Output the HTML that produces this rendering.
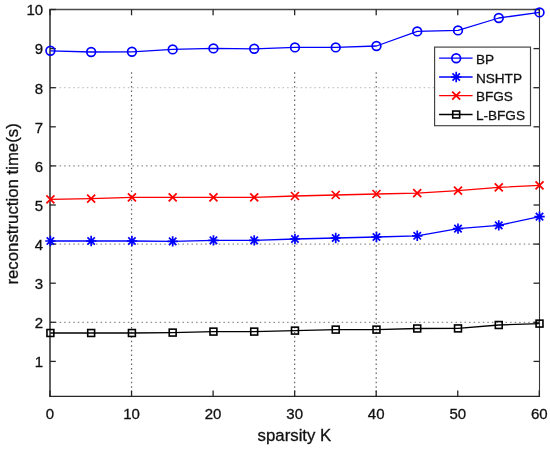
<!DOCTYPE html><html><head><meta charset="utf-8"><style>html,body{margin:0;padding:0;background:#fff;width:550px;height:449px;overflow:hidden}svg{display:block}text{font-family:'Liberation Sans', Arial, Helvetica, sans-serif;fill:#111;stroke:#111;stroke-width:0.3px}</style></head><body>
<svg width="550" height="449" viewBox="0 0 550 449">
<rect x="0" y="0" width="550" height="449" fill="#fff"/>
<line x1="131.55" y1="396.85" x2="131.55" y2="70.00" stroke="#606060" stroke-width="1.2" stroke-dasharray="1.5 3.05"/>
<line x1="294.65" y1="396.85" x2="294.65" y2="70.00" stroke="#606060" stroke-width="1.2" stroke-dasharray="1.5 3.05"/>
<line x1="376.20" y1="396.85" x2="376.20" y2="70.00" stroke="#606060" stroke-width="1.2" stroke-dasharray="1.5 3.05"/>
<line x1="50.50" y1="322.30" x2="539.30" y2="322.30" stroke="#909090" stroke-width="1.3" stroke-dasharray="1.5 3.05"/>
<line x1="50.50" y1="244.10" x2="539.30" y2="244.10" stroke="#909090" stroke-width="1.3" stroke-dasharray="1.5 3.05"/>
<line x1="50.50" y1="165.90" x2="539.30" y2="165.90" stroke="#909090" stroke-width="1.3" stroke-dasharray="1.5 3.05"/>
<line x1="50.50" y1="87.70" x2="539.30" y2="87.70" stroke="#c4c4c4" stroke-width="1.3" stroke-dasharray="1.5 3.05"/>
<line x1="50.00" y1="8.90" x2="50.00" y2="397.10" stroke="#1e1e1e" stroke-width="1.4"/>
<line x1="539.50" y1="8.90" x2="539.50" y2="397.10" stroke="#3a3a3a" stroke-width="1.1"/>
<line x1="49.30" y1="9.50" x2="540.05" y2="9.50" stroke="#4a4a4a" stroke-width="1.3"/>
<line x1="49.30" y1="396.40" x2="540.05" y2="396.40" stroke="#262626" stroke-width="1.4"/>
<line x1="50.00" y1="396.40" x2="50.00" y2="390.60" stroke="#262626" stroke-width="1.3"/>
<line x1="50.00" y1="9.50" x2="50.00" y2="15.30" stroke="#262626" stroke-width="1.3"/>
<line x1="131.55" y1="396.40" x2="131.55" y2="390.60" stroke="#262626" stroke-width="1.3"/>
<line x1="131.55" y1="9.50" x2="131.55" y2="15.30" stroke="#262626" stroke-width="1.3"/>
<line x1="213.10" y1="396.40" x2="213.10" y2="390.60" stroke="#262626" stroke-width="1.3"/>
<line x1="213.10" y1="9.50" x2="213.10" y2="15.30" stroke="#262626" stroke-width="1.3"/>
<line x1="294.65" y1="396.40" x2="294.65" y2="390.60" stroke="#262626" stroke-width="1.3"/>
<line x1="294.65" y1="9.50" x2="294.65" y2="15.30" stroke="#262626" stroke-width="1.3"/>
<line x1="376.20" y1="396.40" x2="376.20" y2="390.60" stroke="#262626" stroke-width="1.3"/>
<line x1="376.20" y1="9.50" x2="376.20" y2="15.30" stroke="#262626" stroke-width="1.3"/>
<line x1="457.75" y1="396.40" x2="457.75" y2="390.60" stroke="#262626" stroke-width="1.3"/>
<line x1="457.75" y1="9.50" x2="457.75" y2="15.30" stroke="#262626" stroke-width="1.3"/>
<line x1="539.30" y1="396.40" x2="539.30" y2="390.60" stroke="#262626" stroke-width="1.3"/>
<line x1="539.30" y1="9.50" x2="539.30" y2="15.30" stroke="#262626" stroke-width="1.3"/>
<line x1="50.00" y1="361.40" x2="55.80" y2="361.40" stroke="#262626" stroke-width="1.3"/>
<line x1="539.30" y1="361.40" x2="533.50" y2="361.40" stroke="#262626" stroke-width="1.3"/>
<line x1="50.00" y1="322.30" x2="55.80" y2="322.30" stroke="#262626" stroke-width="1.3"/>
<line x1="539.30" y1="322.30" x2="533.50" y2="322.30" stroke="#262626" stroke-width="1.3"/>
<line x1="50.00" y1="283.20" x2="55.80" y2="283.20" stroke="#262626" stroke-width="1.3"/>
<line x1="539.30" y1="283.20" x2="533.50" y2="283.20" stroke="#262626" stroke-width="1.3"/>
<line x1="50.00" y1="244.10" x2="55.80" y2="244.10" stroke="#262626" stroke-width="1.3"/>
<line x1="539.30" y1="244.10" x2="533.50" y2="244.10" stroke="#262626" stroke-width="1.3"/>
<line x1="50.00" y1="205.00" x2="55.80" y2="205.00" stroke="#262626" stroke-width="1.3"/>
<line x1="539.30" y1="205.00" x2="533.50" y2="205.00" stroke="#262626" stroke-width="1.3"/>
<line x1="50.00" y1="165.90" x2="55.80" y2="165.90" stroke="#262626" stroke-width="1.3"/>
<line x1="539.30" y1="165.90" x2="533.50" y2="165.90" stroke="#262626" stroke-width="1.3"/>
<line x1="50.00" y1="126.80" x2="55.80" y2="126.80" stroke="#262626" stroke-width="1.3"/>
<line x1="539.30" y1="126.80" x2="533.50" y2="126.80" stroke="#262626" stroke-width="1.3"/>
<line x1="50.00" y1="87.70" x2="55.80" y2="87.70" stroke="#262626" stroke-width="1.3"/>
<line x1="539.30" y1="87.70" x2="533.50" y2="87.70" stroke="#262626" stroke-width="1.3"/>
<line x1="50.00" y1="48.60" x2="55.80" y2="48.60" stroke="#262626" stroke-width="1.3"/>
<line x1="539.30" y1="48.60" x2="533.50" y2="48.60" stroke="#262626" stroke-width="1.3"/>
<line x1="50.00" y1="9.50" x2="55.80" y2="9.50" stroke="#262626" stroke-width="1.3"/>
<line x1="539.30" y1="9.50" x2="533.50" y2="9.50" stroke="#262626" stroke-width="1.3"/>
<text x="50.00" y="418.5" font-size="15.0" text-anchor="middle">0</text>
<text x="131.55" y="418.5" font-size="15.0" text-anchor="middle">10</text>
<text x="213.10" y="418.5" font-size="15.0" text-anchor="middle">20</text>
<text x="294.65" y="418.5" font-size="15.0" text-anchor="middle">30</text>
<text x="376.20" y="418.5" font-size="15.0" text-anchor="middle">40</text>
<text x="457.75" y="418.5" font-size="15.0" text-anchor="middle">50</text>
<text x="539.30" y="418.5" font-size="15.0" text-anchor="middle">60</text>
<text x="43.1" y="367.25" font-size="15.0" text-anchor="end">1</text>
<text x="43.1" y="328.15" font-size="15.0" text-anchor="end">2</text>
<text x="43.1" y="289.05" font-size="15.0" text-anchor="end">3</text>
<text x="43.1" y="249.95" font-size="15.0" text-anchor="end">4</text>
<text x="43.1" y="210.85" font-size="15.0" text-anchor="end">5</text>
<text x="43.1" y="171.75" font-size="15.0" text-anchor="end">6</text>
<text x="43.1" y="132.65" font-size="15.0" text-anchor="end">7</text>
<text x="43.1" y="93.55" font-size="15.0" text-anchor="end">8</text>
<text x="43.1" y="54.45" font-size="15.0" text-anchor="end">9</text>
<text x="43.1" y="15.35" font-size="15.0" text-anchor="end">10</text>
<text x="294.45" y="441.1" font-size="16.8" text-anchor="middle">sparsity K</text>
<text transform="translate(18.0 203.9) rotate(-90)" x="0" y="0" font-size="16.8" text-anchor="middle">reconstruction time(s)</text>
<polyline points="50.40,50.80 91.16,52.00 131.92,51.80 172.68,49.40 213.44,48.40 254.20,48.80 294.96,47.40 335.72,47.40 376.48,46.00 417.24,31.40 458.00,30.40 498.76,18.00 539.52,12.40" fill="none" stroke="#0000ff" stroke-width="1.3" stroke-linejoin="round"/>
<circle cx="50.40" cy="50.80" r="4.35" fill="none" stroke="#0000ff" stroke-width="1.7"/>
<circle cx="91.16" cy="52.00" r="4.35" fill="none" stroke="#0000ff" stroke-width="1.7"/>
<circle cx="131.92" cy="51.80" r="4.35" fill="none" stroke="#0000ff" stroke-width="1.7"/>
<circle cx="172.68" cy="49.40" r="4.35" fill="none" stroke="#0000ff" stroke-width="1.7"/>
<circle cx="213.44" cy="48.40" r="4.35" fill="none" stroke="#0000ff" stroke-width="1.7"/>
<circle cx="254.20" cy="48.80" r="4.35" fill="none" stroke="#0000ff" stroke-width="1.7"/>
<circle cx="294.96" cy="47.40" r="4.35" fill="none" stroke="#0000ff" stroke-width="1.7"/>
<circle cx="335.72" cy="47.40" r="4.35" fill="none" stroke="#0000ff" stroke-width="1.7"/>
<circle cx="376.48" cy="46.00" r="4.35" fill="none" stroke="#0000ff" stroke-width="1.7"/>
<circle cx="417.24" cy="31.40" r="4.35" fill="none" stroke="#0000ff" stroke-width="1.7"/>
<circle cx="458.00" cy="30.40" r="4.35" fill="none" stroke="#0000ff" stroke-width="1.7"/>
<circle cx="498.76" cy="18.00" r="4.35" fill="none" stroke="#0000ff" stroke-width="1.7"/>
<circle cx="539.52" cy="12.40" r="4.35" fill="none" stroke="#0000ff" stroke-width="1.7"/>
<polyline points="50.40,241.00 91.16,241.00 131.92,241.00 172.68,241.40 213.44,240.40 254.20,240.40 294.96,239.00 335.72,238.00 376.48,237.00 417.24,235.80 458.00,228.60 498.76,225.40 539.52,216.60" fill="none" stroke="#0000ff" stroke-width="1.3" stroke-linejoin="round"/>
<path d="M50.40 235.80V246.20M45.20 241.00H55.60M46.70 237.30L54.10 244.70M46.70 244.70L54.10 237.30" stroke="#0000ff" stroke-width="1.7" fill="none"/>
<path d="M91.16 235.80V246.20M85.96 241.00H96.36M87.46 237.30L94.86 244.70M87.46 244.70L94.86 237.30" stroke="#0000ff" stroke-width="1.7" fill="none"/>
<path d="M131.92 235.80V246.20M126.72 241.00H137.12M128.22 237.30L135.62 244.70M128.22 244.70L135.62 237.30" stroke="#0000ff" stroke-width="1.7" fill="none"/>
<path d="M172.68 236.20V246.60M167.48 241.40H177.88M168.98 237.70L176.38 245.10M168.98 245.10L176.38 237.70" stroke="#0000ff" stroke-width="1.7" fill="none"/>
<path d="M213.44 235.20V245.60M208.24 240.40H218.64M209.74 236.70L217.14 244.10M209.74 244.10L217.14 236.70" stroke="#0000ff" stroke-width="1.7" fill="none"/>
<path d="M254.20 235.20V245.60M249.00 240.40H259.40M250.50 236.70L257.90 244.10M250.50 244.10L257.90 236.70" stroke="#0000ff" stroke-width="1.7" fill="none"/>
<path d="M294.96 233.80V244.20M289.76 239.00H300.16M291.26 235.30L298.66 242.70M291.26 242.70L298.66 235.30" stroke="#0000ff" stroke-width="1.7" fill="none"/>
<path d="M335.72 232.80V243.20M330.52 238.00H340.92M332.02 234.30L339.42 241.70M332.02 241.70L339.42 234.30" stroke="#0000ff" stroke-width="1.7" fill="none"/>
<path d="M376.48 231.80V242.20M371.28 237.00H381.68M372.78 233.30L380.18 240.70M372.78 240.70L380.18 233.30" stroke="#0000ff" stroke-width="1.7" fill="none"/>
<path d="M417.24 230.60V241.00M412.04 235.80H422.44M413.54 232.10L420.94 239.50M413.54 239.50L420.94 232.10" stroke="#0000ff" stroke-width="1.7" fill="none"/>
<path d="M458.00 223.40V233.80M452.80 228.60H463.20M454.30 224.90L461.70 232.30M454.30 232.30L461.70 224.90" stroke="#0000ff" stroke-width="1.7" fill="none"/>
<path d="M498.76 220.20V230.60M493.56 225.40H503.96M495.06 221.70L502.46 229.10M495.06 229.10L502.46 221.70" stroke="#0000ff" stroke-width="1.7" fill="none"/>
<path d="M539.52 211.40V221.80M534.32 216.60H544.72M535.82 212.90L543.22 220.30M535.82 220.30L543.22 212.90" stroke="#0000ff" stroke-width="1.7" fill="none"/>
<polyline points="50.40,199.40 91.16,198.60 131.92,197.40 172.68,197.40 213.44,197.40 254.20,197.40 294.96,196.00 335.72,195.00 376.48,194.00 417.24,193.20 458.00,190.60 498.76,187.40 539.52,185.40" fill="none" stroke="#ff0000" stroke-width="1.3" stroke-linejoin="round"/>
<path d="M46.40 195.40L54.40 203.40M46.40 203.40L54.40 195.40" stroke="#ff0000" stroke-width="1.75" fill="none"/>
<path d="M87.16 194.60L95.16 202.60M87.16 202.60L95.16 194.60" stroke="#ff0000" stroke-width="1.75" fill="none"/>
<path d="M127.92 193.40L135.92 201.40M127.92 201.40L135.92 193.40" stroke="#ff0000" stroke-width="1.75" fill="none"/>
<path d="M168.68 193.40L176.68 201.40M168.68 201.40L176.68 193.40" stroke="#ff0000" stroke-width="1.75" fill="none"/>
<path d="M209.44 193.40L217.44 201.40M209.44 201.40L217.44 193.40" stroke="#ff0000" stroke-width="1.75" fill="none"/>
<path d="M250.20 193.40L258.20 201.40M250.20 201.40L258.20 193.40" stroke="#ff0000" stroke-width="1.75" fill="none"/>
<path d="M290.96 192.00L298.96 200.00M290.96 200.00L298.96 192.00" stroke="#ff0000" stroke-width="1.75" fill="none"/>
<path d="M331.72 191.00L339.72 199.00M331.72 199.00L339.72 191.00" stroke="#ff0000" stroke-width="1.75" fill="none"/>
<path d="M372.48 190.00L380.48 198.00M372.48 198.00L380.48 190.00" stroke="#ff0000" stroke-width="1.75" fill="none"/>
<path d="M413.24 189.20L421.24 197.20M413.24 197.20L421.24 189.20" stroke="#ff0000" stroke-width="1.75" fill="none"/>
<path d="M454.00 186.60L462.00 194.60M454.00 194.60L462.00 186.60" stroke="#ff0000" stroke-width="1.75" fill="none"/>
<path d="M494.76 183.40L502.76 191.40M494.76 191.40L502.76 183.40" stroke="#ff0000" stroke-width="1.75" fill="none"/>
<path d="M535.52 181.40L543.52 189.40M535.52 189.40L543.52 181.40" stroke="#ff0000" stroke-width="1.75" fill="none"/>
<polyline points="50.40,333.00 91.16,333.00 131.92,333.00 172.68,332.60 213.44,331.60 254.20,331.60 294.96,330.60 335.72,329.60 376.48,329.60 417.24,328.50 458.00,328.40 498.76,325.00 539.52,323.60" fill="none" stroke="#000000" stroke-width="1.3" stroke-linejoin="round"/>
<rect x="46.95" y="329.55" width="6.90" height="6.90" fill="none" stroke="#000000" stroke-width="1.6"/>
<rect x="87.71" y="329.55" width="6.90" height="6.90" fill="none" stroke="#000000" stroke-width="1.6"/>
<rect x="128.47" y="329.55" width="6.90" height="6.90" fill="none" stroke="#000000" stroke-width="1.6"/>
<rect x="169.23" y="329.15" width="6.90" height="6.90" fill="none" stroke="#000000" stroke-width="1.6"/>
<rect x="209.99" y="328.15" width="6.90" height="6.90" fill="none" stroke="#000000" stroke-width="1.6"/>
<rect x="250.75" y="328.15" width="6.90" height="6.90" fill="none" stroke="#000000" stroke-width="1.6"/>
<rect x="291.51" y="327.15" width="6.90" height="6.90" fill="none" stroke="#000000" stroke-width="1.6"/>
<rect x="332.27" y="326.15" width="6.90" height="6.90" fill="none" stroke="#000000" stroke-width="1.6"/>
<rect x="373.03" y="326.15" width="6.90" height="6.90" fill="none" stroke="#000000" stroke-width="1.6"/>
<rect x="413.79" y="325.05" width="6.90" height="6.90" fill="none" stroke="#000000" stroke-width="1.6"/>
<rect x="454.55" y="324.95" width="6.90" height="6.90" fill="none" stroke="#000000" stroke-width="1.6"/>
<rect x="495.31" y="321.55" width="6.90" height="6.90" fill="none" stroke="#000000" stroke-width="1.6"/>
<rect x="536.07" y="320.15" width="6.90" height="6.90" fill="none" stroke="#000000" stroke-width="1.6"/>
<rect x="434.60" y="47.10" width="95.90" height="78.60" fill="#fff" stroke="#404040" stroke-width="1.15"/>
<line x1="439.1" y1="58.20" x2="472.6" y2="58.20" stroke="#0000ff" stroke-width="1.3"/>
<circle cx="456.20" cy="58.20" r="4.35" fill="none" stroke="#0000ff" stroke-width="1.7"/>
<text x="475.9" y="64.00" font-size="13.6">BP</text>
<line x1="439.1" y1="77.00" x2="472.6" y2="77.00" stroke="#0000ff" stroke-width="1.3"/>
<path d="M456.20 71.80V82.20M451.00 77.00H461.40M452.50 73.30L459.90 80.70M452.50 80.70L459.90 73.30" stroke="#0000ff" stroke-width="1.7" fill="none"/>
<text x="475.9" y="82.70" font-size="13.6">NSHTP</text>
<line x1="439.1" y1="95.70" x2="472.6" y2="95.70" stroke="#ff0000" stroke-width="1.3"/>
<path d="M452.20 91.70L460.20 99.70M452.20 99.70L460.20 91.70" stroke="#ff0000" stroke-width="1.75" fill="none"/>
<text x="475.9" y="101.30" font-size="13.6">BFGS</text>
<line x1="439.1" y1="114.50" x2="472.6" y2="114.50" stroke="#000000" stroke-width="1.3"/>
<rect x="452.75" y="111.05" width="6.90" height="6.90" fill="none" stroke="#000000" stroke-width="1.6"/>
<text x="475.9" y="119.90" font-size="13.6">L-BFGS</text>
</svg></body></html>
